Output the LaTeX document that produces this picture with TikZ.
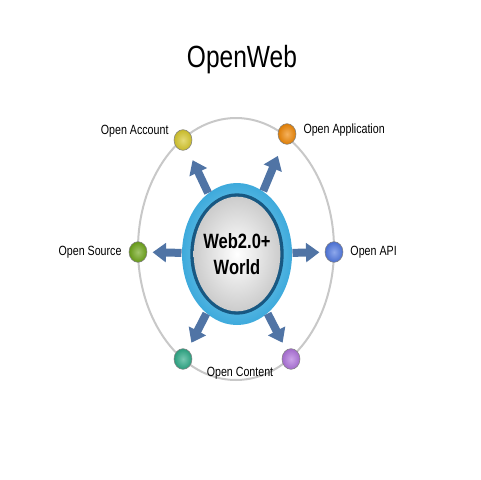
\documentclass[tikz,border=0pt]{standalone}
\usepackage{fontspec}
\setmainfont[FakeStretch=0.8]{Liberation Sans}
\usetikzlibrary{arrows.meta,shapes.geometric}

\definecolor{orbitgray}{RGB}{200,200,200}
\definecolor{ringblue}{RGB}{62,170,220}
\definecolor{ringlight}{RGB}{160,222,245}
\definecolor{ringdark}{RGB}{24,88,130}
\definecolor{arrowblue}{RGB}{80,116,165}
\definecolor{acctcol}{RGB}{215,200,45}
\definecolor{appcol}{RGB}{240,135,5}
\definecolor{srccol}{RGB}{110,165,25}
\definecolor{apicol}{RGB}{80,120,225}
\definecolor{contcol}{RGB}{45,170,135}
\definecolor{misccol}{RGB}{175,115,220}

\tikzset{every picture/.style={line width=0.75pt}}
\tikzset{
  ball/.style={ellipse, draw={black!50}, line width=0.4pt, minimum width=13.5pt, minimum height=15.5pt, inner sep=0pt, shading=radial, inner color=#1!65!white, outer color=#1!92!black},
  lbl/.style={inner sep=0.75pt, font=\fontsize{10}{12}\selectfont},
  spoke/.style={draw=arrowblue, line width=6pt, -{Triangle[width=14pt,length=10pt]}}
}

\begin{document}
\begin{tikzpicture}[x=0.75pt, y=0.75pt, yscale=-1,xscale=1]

    \useasboundingbox (0,0) rectangle (480,480);

    \draw (242, 60) node [align=center][inner sep=0.75pt] (title) {\fontsize{23}{26}\selectfont OpenWeb};

    % orbit
    \draw [draw=orbitgray, line width=1.5pt] (236,249) ellipse (98 and 131);

    % hub
    \node [ellipse, shading=radial, inner color=ringlight, outer color=ringblue, minimum width=82.5pt, minimum height=106.5pt] (hub) at (237,254) {};
    \node [ellipse, fill=ringdark, minimum width=70pt, minimum height=91pt] (hubring) at (hub.center) {};
    \node [ellipse, shading=radial, inner color=white, outer color={black!20}, minimum width=65pt, minimum height=86pt] (hubcore) at (hub.center) {};
    \node [align=center, font=\fontsize{15.5}{19}\selectfont\bfseries] (hubtext) at (hub.center) {Web2.0+\\World};

    % balls
    \node [ball=acctcol] (acct) at (183,140) {};
    \node [ball=appcol]  (app)  at (287,134) {};
    \node [ball=srccol]  (src)  at (138,252) {};
    \node [ball=apicol]  (api)  at (334,252) {};
    \node [ball=contcol] (cont) at (183,359) {};
    \node [ball=misccol] (misc) at (291,359) {};

    % spokes
    \draw [spoke, shorten >=9pt]  (hub) -- (acct);
    \draw [spoke, shorten >=10pt] (hub) -- (app);
    \draw [spoke, shorten >=4pt]  (hub) -- (src);
    \draw [spoke, shorten >=4pt]  (hub) -- (api);
    \draw [spoke, shorten >=6pt]  (hub) -- (cont);
    \draw [spoke, shorten >=6pt]  (hub) -- (misc);

    % labels
    \draw (170,131) node [lbl, anchor=east] (acctlbl) {Open Account};
    \draw (302,130) node [lbl, anchor=west] (applbl)  {Open Application};
    \draw (123,252) node [lbl, anchor=east] (srclbl)  {Open Source};
    \draw (349,252) node [lbl, anchor=west] (apilbl)  {Open API};
    \draw (240,373) node [lbl] (contlbl) {Open Content};

\end{tikzpicture}
\end{document}
